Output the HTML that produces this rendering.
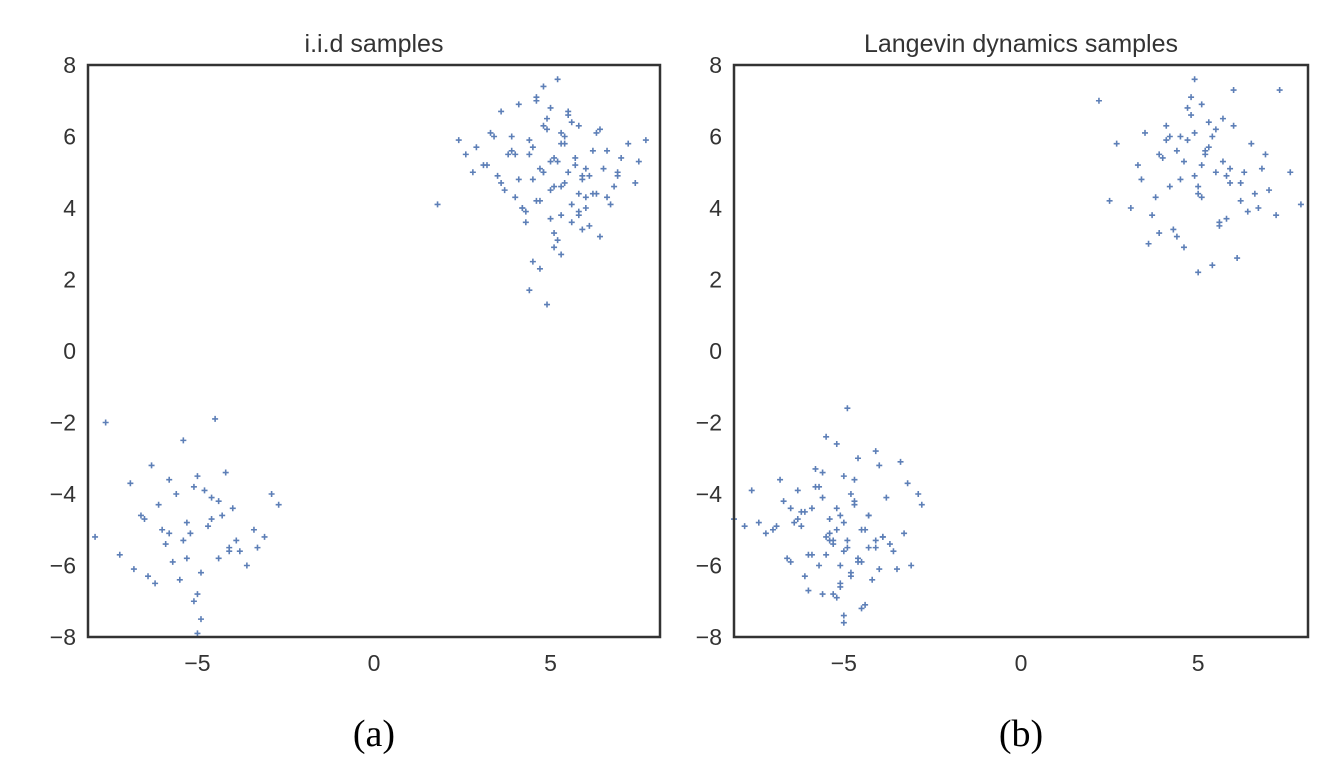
<!DOCTYPE html>
<html><head><meta charset="utf-8"><style>
body{margin:0;background:#fff;width:1320px;height:763px;overflow:hidden}
svg text{font-family:"Liberation Sans",sans-serif;fill:#333}
</style></head><body>
<svg id="chart" width="1320" height="763" xmlns="http://www.w3.org/2000/svg"></svg>
<script>
const xTicks=[-5,0,5];
const yTicks=[8,6,4,2,0,-2,-4,-6,-8];
const yTickLabels=["8","6","4","2","0","\u22122","\u22124","\u22126","\u22128"];
const xTickLabels=["\u22125","0","5"];
const iidUpperX=[5.2,4.1,6.3,5.8,3.9,4.7,5.5,6.9,4.4,5.0,3.2,5.9,4.8,6.1,5.3,4.0,5.6,7.2,4.6,5.1,2.8,5.4,6.6,4.3,5.7,4.9,3.6,6.0,5.2,4.5,5.8,6.4,3.5,4.8,5.3,7.5,4.2,5.0,6.2,4.7,1.8,5.5,3.9,6.8,5.1,4.4,5.9,2.4,5.6,4.6,6.5,5.0,3.7,5.3,4.1,6.0,7.0,4.9,5.4,3.3,5.7,4.3,6.3,5.2,4.8,2.9,5.8,6.7,4.5,5.1,3.8,6.1,5.5,4.0,7.7,4.7,5.3,6.4,3.4,5.0,4.6,5.9,6.6,4.2,5.6,3.1,4.9,6.2,5.4,4.4,7.4,5.1,3.6,5.8,4.8,6.0,2.6,5.3,4.5,6.9];
const iidUpperY=[5.3,4.8,6.1,3.9,5.6,4.2,6.7,5.0,5.9,4.5,5.2,3.4,6.3,4.9,2.7,5.5,4.1,5.8,7.1,4.6,5.0,6.0,4.3,3.6,5.4,6.5,4.7,5.1,3.1,5.7,4.4,6.2,4.9,7.4,3.8,5.3,4.0,6.8,5.6,2.3,4.1,5.0,6.0,4.6,3.3,5.5,4.8,5.9,6.4,4.2,5.1,3.7,4.5,5.8,6.9,4.0,5.4,1.3,4.7,6.1,5.2,3.9,4.4,7.6,5.0,5.7,6.3,4.1,4.8,2.9,5.5,3.5,6.6,4.3,5.9,5.1,4.6,3.2,6.0,5.3,7.0,4.9,5.6,4.0,3.6,5.2,6.2,4.4,5.8,1.7,4.7,5.4,6.7,3.8,5.0,4.3,5.5,6.1,2.5,4.9];
const iidLowerX=[-5.2,-6.1,-4.4,-5.8,-3.9,-4.9,-6.5,-5.4,-4.1,-7.6,-5.0,-4.6,-3.4,-5.7,-6.3,-4.3,-5.1,-2.7,-5.9,-4.8,-6.8,-5.3,-3.8,-4.5,-6.0,-5.5,-4.0,-7.2,-5.0,-3.1,-4.7,-6.2,-5.6,-4.2,-5.3,-6.6,-3.6,-4.9,-5.8,-4.4,-7.9,-5.1,-3.3,-6.4,-4.6,-5.4,-2.9,-6.9,-5.0,-4.1];
const iidLowerY=[-5.1,-4.3,-5.8,-3.6,-5.3,-6.2,-4.7,-2.5,-5.5,-2.0,-6.8,-4.1,-5.0,-5.9,-3.2,-4.6,-7.0,-4.3,-5.4,-3.9,-6.1,-4.8,-5.6,-1.9,-5.0,-6.4,-4.4,-5.7,-3.5,-5.2,-4.9,-6.5,-4.0,-3.4,-5.8,-4.6,-6.0,-7.5,-5.1,-4.2,-5.2,-3.8,-5.5,-6.3,-4.7,-5.3,-4.0,-3.7,-7.9,-5.6];
const ldUpperX=[5.1,4.2,6.0,3.7,5.5,4.8,6.6,2.2,5.3,4.4,7.3,5.8,3.9,4.9,6.2,5.6,4.1,7.9,5.0,3.4,5.7,4.6,6.4,5.2,3.1,4.7,5.9,6.8,4.3,5.4,2.7,5.1,6.1,4.0,4.9,7.0,5.5,3.6,6.3,4.5,5.2,4.8,6.7,3.3,5.8,4.2,5.0,6.5,4.6,7.6,5.3,3.8,5.6,4.4,6.0,2.5,5.1,4.9,7.2,5.7,3.5,6.2,4.7,5.4,4.1,6.9,5.0,3.9,5.9,4.5];
const ldUpperY=[5.2,4.6,6.3,3.8,5.0,7.1,4.4,7.0,5.7,3.2,7.3,4.9,5.5,6.1,4.2,3.6,5.9,4.1,2.2,4.8,6.5,5.3,3.9,5.6,4.0,6.8,4.7,5.1,3.4,6.0,5.8,4.3,2.6,5.4,7.6,4.5,6.2,3.0,5.0,4.8,5.5,6.6,4.0,5.2,3.7,6.0,4.6,5.8,2.9,5.0,6.4,4.3,3.5,5.6,7.3,4.2,6.9,4.9,3.8,5.3,6.1,4.7,5.9,2.4,6.3,5.5,4.4,3.3,5.1,6.0];
const ldLowerX=[-5.2,-4.3,-6.0,-5.6,-4.8,-3.9,-6.5,-5.0,-4.5,-7.4,-5.3,-4.1,-5.8,-6.2,-3.5,-4.9,-5.5,-8.1,-4.6,-5.1,-6.7,-3.2,-5.4,-4.4,-6.1,-5.0,-4.0,-5.7,-7.0,-4.7,-5.2,-3.7,-6.3,-4.9,-5.5,-2.9,-4.2,-5.9,-6.8,-5.1,-4.6,-3.4,-5.3,-6.4,-4.8,-5.0,-7.8,-4.3,-5.6,-3.8,-6.0,-4.5,-5.2,-4.1,-6.6,-5.4,-3.1,-4.9,-5.7,-7.2,-4.7,-5.1,-3.6,-6.2,-5.0,-4.4,-5.8,-6.9,-4.0,-5.3,-2.8,-5.5,-4.6,-6.1,-5.0,-3.9,-4.8,-6.5,-5.2,-4.3,-7.6,-5.6,-4.1,-5.9,-3.3,-4.7,-6.3,-5.1,-4.5,-5.4];
const ldLowerY=[-5.0,-4.6,-5.7,-4.1,-6.3,-5.2,-4.4,-3.5,-5.9,-4.8,-6.8,-5.3,-3.8,-4.9,-6.1,-5.5,-2.4,-4.7,-5.8,-6.6,-4.2,-3.7,-5.1,-7.1,-4.5,-5.6,-3.2,-6.0,-5.0,-4.3,-6.9,-5.4,-3.9,-1.6,-5.2,-4.0,-6.4,-5.7,-3.6,-4.6,-5.9,-3.1,-5.3,-4.8,-6.2,-7.4,-4.9,-5.5,-3.4,-4.1,-6.7,-5.0,-4.4,-2.8,-5.8,-4.7,-6.0,-5.3,-3.8,-5.1,-4.2,-6.5,-5.6,-4.5,-7.6,-5.0,-3.3,-4.9,-6.1,-5.4,-4.3,-5.7,-3.0,-6.3,-4.8,-5.2,-4.0,-5.9,-2.6,-4.6,-3.9,-6.8,-5.5,-4.4,-5.1,-3.6,-4.7,-6.0,-7.2,-5.3];

const NS="http://www.w3.org/2000/svg";
const svg=document.getElementById('chart');
function mk(tag,attrs,parent){const e=document.createElementNS(NS,tag);for(const k in attrs)e.setAttribute(k,attrs[k]);(parent||svg).appendChild(e);return e;}

const panels=[
 {left:88,right:660,title:"i.i.d samples",caption:"(a)",series:[[iidUpperX,iidUpperY],[iidLowerX,iidLowerY]],name:"panel-a"},
 {left:734,right:1308,title:"Langevin dynamics samples",caption:"(b)",series:[[ldUpperX,ldUpperY],[ldLowerX,ldLowerY]],name:"panel-b"}
];
const plotTop=65,plotBottom=637,xMin=-8.1,xMax=8.1,yMin=-8,yMax=8;

panels.forEach(p=>{
 const g=mk('g',{});
 
 
 const sx=v=>p.left+(v-xMin)/(xMax-xMin)*(p.right-p.left);
 const sy=v=>plotBottom-(v-yMin)/(yMax-yMin)*(plotBottom-plotTop);
 p.series.forEach((s,si)=>{
  const sg=mk('g',{stroke:'#4c72b0','stroke-width':1.6,opacity:0.9},g);
  
  
  s[0].forEach((xv,i)=>{
   const cx=sx(xv),cy=sy(s[1][i]);
   const m=mk('path',{d:`M${cx-3},${cy}H${cx+3}M${cx},${cy-3}V${cy+3}`},sg);
   
   
  });
 });
 const fr=mk('rect',{x:p.left,y:plotTop,width:p.right-p.left,height:plotBottom-plotTop,fill:'none',stroke:'#333','stroke-width':2.5},g);
 
 
 yTicks.forEach((v,i)=>{
  const t=mk('text',{x:p.left-12,y:sy(v)+8,'text-anchor':'end','font-size':23},g);
  t.textContent=yTickLabels[i];
  
  
 });
 xTicks.forEach((v,i)=>{
  const t=mk('text',{x:sx(v),y:plotBottom+34,'text-anchor':'middle','font-size':23},g);
  t.textContent=xTickLabels[i];
  
  
 });
 const tt=mk('text',{x:(p.left+p.right)/2,y:52,'text-anchor':'middle','font-size':25},g);
 tt.textContent=p.title;
 
 
 const cap=mk('text',{x:(p.left+p.right)/2,y:746,'text-anchor':'middle','font-size':38,style:'font-family:"Liberation Serif",serif;fill:#000'},g);
 cap.textContent=p.caption;
 
 
});
</script>
</body></html>
